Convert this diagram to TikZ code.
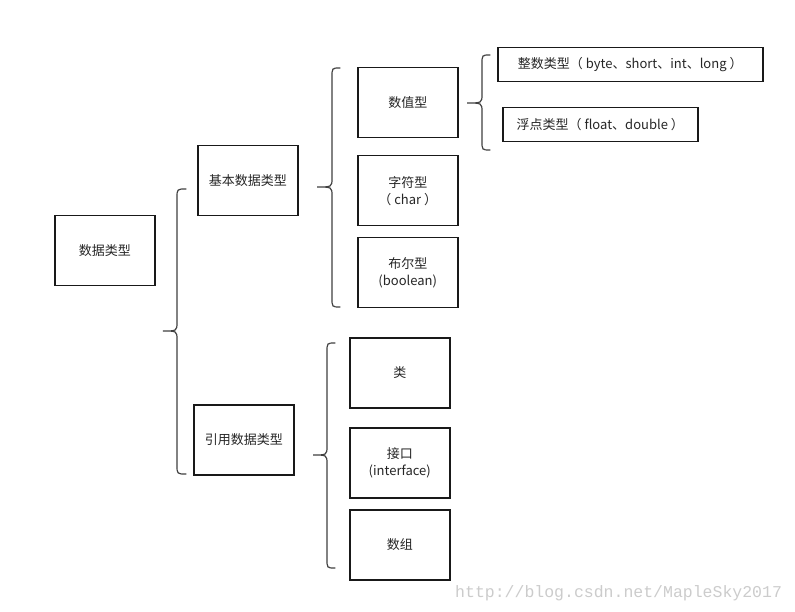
\documentclass[tikz,border=0pt]{standalone}
\usepackage{fontspec}
\setmainfont{Noto Sans CJK SC}
\newfontfamily\wmfont{Liberation Mono}
\newcommand\mybrace[6]{% spine x, end x, tip x, top y, mid y, bottom y
  \draw[brc] (#2,#4) .. controls (#1,#4) .. (#1,#4+9) -- (#1,#5-9)
    .. controls (#1,#5) .. (#3,#5) .. controls (#1,#5) .. (#1,#5+9)
    -- (#1,#6-9) .. controls (#1,#6) .. (#2,#6);}
\begin{document}
\begin{tikzpicture}[x=1pt,y=-1pt,
  box/.style={draw=black!90, line width=1.5pt, anchor=north west, inner sep=0pt,
    minimum width=100pt, minimum height=70pt, align=center, text=black!85,
    font=\fontsize{13}{17}\selectfont},
  wbox/.style={box, minimum height=34pt},
  brc/.style={draw=black!75, line width=1.2pt, line cap=round}]
\useasboundingbox (0,0) rectangle (795,612);
\fill[white] (0,0) rectangle (795,612);
% boxes
\node[box] (root) at (54,215) {数据类型};
\node[box] (basic) at (197,145) {基本数据类型};
\node[box] (ref) at (193,404) {引用数据类型};
\node[box] (num) at (357,67) {数值型};
\node[box] (chr) at (357,155) {字符型\\（ char ）};
\node[box] (bool) at (357,237) {布尔型\\(boolean)};
\node[wbox, minimum width=265pt] (int) at (497,47) {整数类型（ byte、short、int、long ）};
\node[wbox, minimum width=195pt] (flt) at (502,107) {浮点类型（ float、double ）};
\node[box] (cls) at (349,337) {类};
\node[box] (ifc) at (349,427) {接口\\(interface)};
\node[box] (arr) at (349,509) {数组};
% braces
\mybrace{177}{186}{163}{189}{331}{474}
\mybrace{332}{340}{317}{68}{187}{307}
\mybrace{482}{490}{467}{55}{103}{150}
\mybrace{327}{335}{313}{343}{455}{568}
% watermark
\node[anchor=base west, inner sep=0pt, text=black!20, font=\wmfont\fontsize{16.5}{18}\selectfont] (wm) at (455,597) {http://blog.csdn.net/MapleSky2017};
\end{tikzpicture}
\end{document}
